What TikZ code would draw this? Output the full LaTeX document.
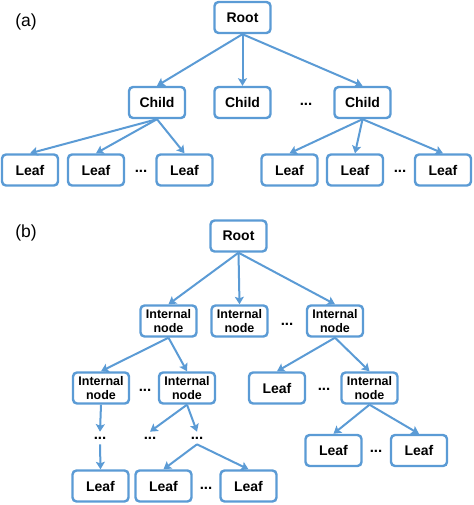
\documentclass[tikz,border=0pt]{standalone}
\usepackage{fontspec}
\setmainfont{Liberation Sans}
\usetikzlibrary{arrows.meta}
\definecolor{boxblue}{RGB}{91,155,213}
\tikzset{
  tbox/.style={draw=boxblue, line width=2.4pt, rounded corners=4pt, fill=white,
    minimum width=56pt, minimum height=31pt, inner sep=0pt,
    font=\fontsize{14}{16}\selectfont\bfseries},
  ibox/.style={tbox, align=center, font=\fontsize{12.5}{14}\selectfont\bfseries},
  dotnode/.style={inner sep=0pt, font=\fontsize{15}{16}\selectfont\bfseries},
  dotvia/.style={dotnode, inner sep=5pt},
  plabel/.style={inner sep=0pt, font=\fontsize{17.5}{19}\selectfont},
  arr/.style={draw=boxblue, line width=2pt, -{Stealth[length=7.5pt,width=9pt,inset=1.5pt]}}
}
\begin{document}
\begin{tikzpicture}[x=1pt,y=-1pt]
\useasboundingbox (0,0) rectangle (473,505);
% ---------- (a) ----------
\node[plabel] (lblA) at (26,22) {(a)};
\node[tbox] (rootA) at (242.5,17.5) {Root};
\node[tbox] (c1) at (157,102.5) {Child};
\node[tbox] (c2) at (242.5,102.5) {Child};
\node[tbox] (c3) at (362.5,102.5) {Child};
\node[dotnode] (da1) at (306,104) {...};
\node[tbox] (l1) at (30,170) {Leaf};
\node[tbox] (l2) at (96,170) {Leaf};
\node[dotnode] (da2) at (141,171) {...};
\node[tbox] (l3) at (184.5,170) {Leaf};
\node[tbox] (l4) at (289.5,170) {Leaf};
\node[tbox] (l5) at (355,170) {Leaf};
\node[dotnode] (da3) at (400,171) {...};
\node[tbox] (l6) at (443,170) {Leaf};
\draw[arr] (rootA.south) -- (c1.north);
\draw[arr] (rootA.south) -- (c2.north);
\draw[arr] (rootA.south) -- (c3.north);
\draw[arr] (c1.south) -- (l1.north);
\draw[arr] (c1.south) -- (l2.north);
\draw[arr] (c1.south) -- (l3.north);
\draw[arr] (c3.south) -- (l4.north);
\draw[arr] (c3.south) -- (l5.north);
\draw[arr] (c3.south) -- (l6.north);
% ---------- (b) ----------
\node[plabel] (lblB) at (26,233) {(b)};
\node[tbox] (rootB) at (238.5,236) {Root};
\node[ibox] (i1) at (168.5,321) {Internal\\node};
\node[ibox] (i2) at (239.5,321) {Internal\\node};
\node[dotnode] (db1) at (287,324) {...};
\node[ibox] (i3) at (335,321) {Internal\\node};
\node[ibox] (i4) at (101,388) {Internal\\node};
\node[dotnode] (db2) at (145,390) {...};
\node[ibox] (i5) at (187,388) {Internal\\node};
\node[tbox] (lr) at (277,388) {Leaf};
\node[dotnode] (db3) at (324,389) {...};
\node[ibox] (i6) at (369.5,388) {Internal\\node};
\node[dotvia] (v1) at (100,438) {...};
\node[dotvia] (v2) at (150,438) {...};
\node[dotvia] (v3) at (197,438) {...};
\node[tbox] (l7) at (333.5,450.5) {Leaf};
\node[dotnode] (db4) at (376,451) {...};
\node[tbox] (l8) at (419,450.5) {Leaf};
\node[tbox] (l9) at (100.5,486) {Leaf};
\node[tbox] (l10) at (163.5,486) {Leaf};
\node[dotnode] (db5) at (206,488) {...};
\node[tbox] (l11) at (248.5,486) {Leaf};
\draw[arr] (rootB.south) -- (i1.north);
\draw[arr] (rootB.south) -- (i2.north);
\draw[arr] (rootB.south) -- (i3.north);
\draw[arr] (i1.south) -- (i4.north);
\draw[arr] (i1.south) -- (i5.north);
\draw[arr] (i3.south) -- (lr.north);
\draw[arr] (i3.south) -- (i6.north);
\draw[arr] (i4.south) -- (v1.north);
\draw[arr] (i5.south) -- (v2.north);
\draw[arr] (i5.south) -- (v3.north);
\draw[arr] (v1.south) -- (l9.north);
\draw[arr] (v3.south) -- (l10.north);
\draw[arr] (v3.south) -- (l11.north);
\draw[arr] (i6.south) -- (l7.north);
\draw[arr] (i6.south) -- (l8.north);
\end{tikzpicture}
\end{document}
